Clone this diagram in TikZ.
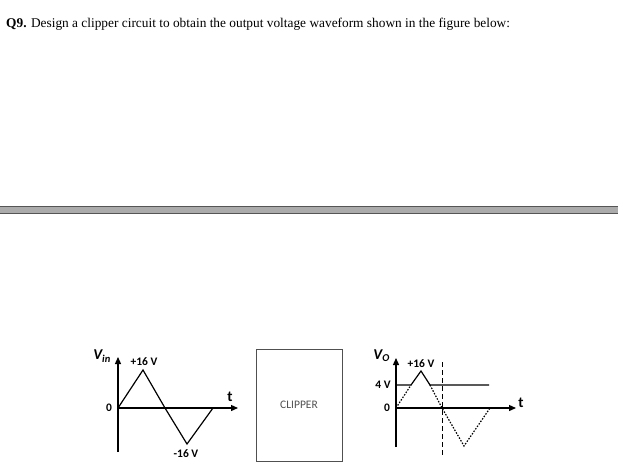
\documentclass[tikz,border=0pt]{standalone}
\usepackage{fontspec}
\setmainfont{Liberation Serif}
\newfontfamily\calibri{Carlito}
\usetikzlibrary{arrows.meta, positioning}
\definecolor{BarGray}{RGB}{171, 171, 171}
\definecolor{BarEdge}{RGB}{85, 85, 85}
\definecolor{BoxText}{RGB}{80, 80, 80}

\begin{document}
\begin{tikzpicture}[x=1pt, y=-1pt]
        \tikzstyle{axis} = [-{Triangle[length=7pt, width=6pt]}, line width=1.3pt]
        \tikzstyle{wave} = [line width=1.2pt]
        \tikzstyle{clip} = [dash pattern=on 1.5pt off 1.5pt, line width=1.2pt]
        \tikzstyle{lbl} = [inner sep=0pt, font=\calibri\bfseries\fontsize{11.5}{13}\selectfont]
        \tikzstyle{sym} = [inner sep=0pt, font=\calibri\bfseries\itshape\fontsize{15}{16}\selectfont]
        \useasboundingbox (0,0) rectangle (618,468);

        % Title and separator
        \node (title) [anchor=base west, inner sep=0pt, font=\fontsize{13.35}{15}\selectfont] at (6,28) {\textbf{Q9.} Design a clipper circuit to obtain the output voltage waveform shown in the figure below:};
        \draw [draw=BarEdge, fill=BarGray, line width=0.8pt] (-1,206) rectangle (619,213.5);

        % Input waveform
        \coordinate (in0) at (118,408);
        \coordinate (inTop) at (118,357);
        \coordinate (inBot) at (118,452);
        \coordinate (inEnd) at (238,408);
        \draw [axis] (inBot) -- (inTop);
        \draw [axis] (in0) -- (inEnd);
        \draw [wave] (in0) -- (143,370) -- (165,408) -- (187,444) -- (213,408);

        \node (vin) [sym, anchor=east] at (111,356) {V\textsubscript{in}};
        \node (inpk) [lbl] at (144,362) {+16 V};
        \node (inzero) [lbl] at (109,408) {0};
        \node (intr) [lbl] at (186,454) {-16 V};
        \node (int) [lbl, font=\calibri\bfseries\fontsize{15}{16}\selectfont] at (230,397) {t};

        % Clipper block
        \node (clipper) [draw=BoxText, line width=0.9pt, minimum width=86pt, minimum height=112pt, text=BoxText, font=\calibri\fontsize{11.5}{13}\selectfont] at (299,405) {CLIPPER};

        % Output waveform
        \coordinate (out0) at (396,408);
        \coordinate (outTop) at (396,358);
        \coordinate (outBot) at (396,447);
        \coordinate (outEnd) at (516,408);
        \draw [axis] (outBot) -- (outTop);
        \draw [axis] (out0) -- (outEnd);
        \draw [wave] (396,385) -- (411,385) -- (421,371) -- (430,385) -- (489,385);
        \draw [clip] (out0) -- (411,385);
        \draw [clip] (430,385) -- (442,408) -- (464,446) -- (490,408);
        \draw [dashed, line width=0.6pt, dash pattern=on 5pt off 3pt] (442,362) -- (442,457);

        \node (vo) [sym, anchor=east] at (390,356) {V\textsubscript{O}};
        \node (outpk) [lbl] at (421,364) {+16 V};
        \node (outfour) [lbl] at (383,385) {4 V};
        \node (outzero) [lbl] at (387,408) {0};
        \node (outt) [lbl, font=\calibri\bfseries\fontsize{15}{16}\selectfont] at (521,403) {t};
    \end{tikzpicture}
\end{document}
